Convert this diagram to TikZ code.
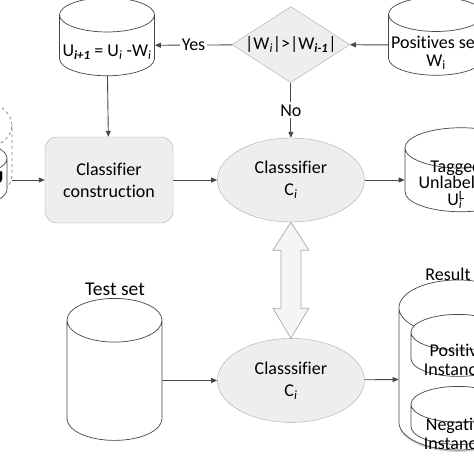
\documentclass[tikz,border=0pt]{standalone}
\usepackage{fontspec}
\setmainfont{Carlito}[Ligatures=CommonOff]
\usetikzlibrary{shapes, positioning, shadows, arrows.meta, calc}
\definecolor{linegray}{RGB}{70, 70, 70}
\definecolor{rimgray}{RGB}{170, 170, 170}
\definecolor{softgray}{RGB}{238, 238, 238}

\begin{document}
\begin{tikzpicture}[
      x=1pt, y=-1pt,
      node distance=44pt and 44pt,
      font=\fontsize{18}{22}\selectfont,
      >={Triangle[length=6pt, width=5pt]},
      store/.style={cylinder, shape border rotate=90, aspect=0.36, draw=linegray,
                    line width=0.7pt, fill=white, inner sep=0pt},
      inside/.style={align=center, inner sep=0pt, font=\fontsize{18}{18.5}\selectfont},
      block/.style={rectangle, rounded corners=12pt, draw=rimgray, fill=softgray,
                    align=center, minimum width=128pt, minimum height=86pt},
      classifier/.style={ellipse, draw=rimgray, fill=softgray, align=center,
                    minimum width=147pt, minimum height=84pt, inner sep=0pt},
      check/.style={diamond, aspect=1.55, draw=rimgray, fill=softgray,
                    minimum width=118pt, minimum height=76pt, inner sep=0pt},
      arrow/.style={->, draw=linegray, line width=0.9pt},
      twoway/.style={draw=rimgray, fill=gray!8, line width=0.7pt},
      tag/.style={fill=white, inner sep=2pt}
  ]
  \useasboundingbox (0,0) rectangle (474,474);
  \clip (0,0) rectangle (474,474);

  % training loop
  \node[block] at (109,180)                    (build) {Classifier\\construction};
  \node[classifier, right=44pt of build]       (ci)    {Classsifier\\C\textsubscript{\textit{i}}};
  \node[check, above=55pt of ci]               (grow)  {|W\textsubscript{\textit{i}}|>|W\textsubscript{\textbf{\textit{i-1}}}|};
  \node[store, text width=95pt, minimum height=78pt] at (107,45.5) (rest) {};
  \node[inside, yshift=-6.5pt] at (rest) (resttxt)
        {U\textsubscript{\textbf{\textit{i+1}}} = U\textsubscript{\textit{i}} -W\textsubscript{\textit{i}}};
  \node[store, text width=95pt, minimum height=78pt] at (436,45) (pos) {};
  \node[inside, yshift=-7.5pt] at (pos) (postxt) {Positives set\\W\textsubscript{i}};
  \node[store, text width=112pt, minimum height=84pt] at (461,180) (tagged) {};
  \node[inside, font=\fontsize{18}{16.5}\selectfont, yshift=-4pt, xshift=-5pt] at (tagged) (taggedtxt)
        {Tagged\\Unlabeled\\U\rlap{\textsubscript{\textit{i}}}\textsuperscript{L}};

  % unlabeled pool on the left
  \node[store, dashed, draw=gray, aspect=0.7, text width=70pt, minimum height=99pt] at (-23,162.5) (prior) {};
  \node[store, aspect=0.5, text width=56pt, minimum height=59pt] at (-21,181) (priorin) {};
  \node[anchor=east, inner sep=0pt] at (3.5,178) (priortxt) {\textbf{U}};

  % testing
  \node[classifier, below=116pt of ci]         (ct)    {Classsifier\\C\textsubscript{\textit{i}}};
  \node[store, aspect=0.46, text width=95pt, minimum height=142pt] at (114.5,380.5) (test) {};
  \node[font=\fontsize{19.5}{23}\selectfont] at (115,289) (testtxt) {Test set};
  \node[store, aspect=0.47, text width=118pt, minimum height=170pt,
        drop shadow={opacity=0.35, shadow xshift=0pt, shadow yshift=-2pt}] at (458,379) (result) {};
  \node at (448,274) (resulttxt) {Result};
  \node[store, aspect=0.38, text width=94pt, minimum height=62pt] at (458,354.5) (posinst) {};
  \node[inside, yshift=-5.5pt] at (posinst) (posinsttxt) {Positive\\Instances};
  \node[store, aspect=0.38, text width=94pt, minimum height=58pt] at (458,424.5) (neginst) {};
  \node[inside, yshift=-9.5pt] at (neginst) (neginsttxt) {Negative\\Instances};

  \draw[arrow] (grow) -- node[tag] {Yes} (rest);
  \draw[arrow] (pos) -- (grow);
  \draw[arrow] (grow) -- node[tag] {No} (ci);
  \draw[arrow] (rest) -- (build);
  \draw[arrow] (prior.east |- build.west) -- (build);
  \draw[arrow] (build) -- (ci);
  \draw[arrow] (ci) -- (tagged);
  \draw[arrow] (test) -- (ct);
  \draw[arrow] (ct) -- (result);

  % classifier shared by both stages
  \draw[twoway] (ci.south) -- ++(18,28) -- ++(-8,0) -- ++(0,58) -- ++(8,0)
        -- (ct.north) -- ++(-18,-30) -- ++(8,0) -- ++(0,-58) -- ++(-8,0) -- cycle;
  \end{tikzpicture}
\end{document}
